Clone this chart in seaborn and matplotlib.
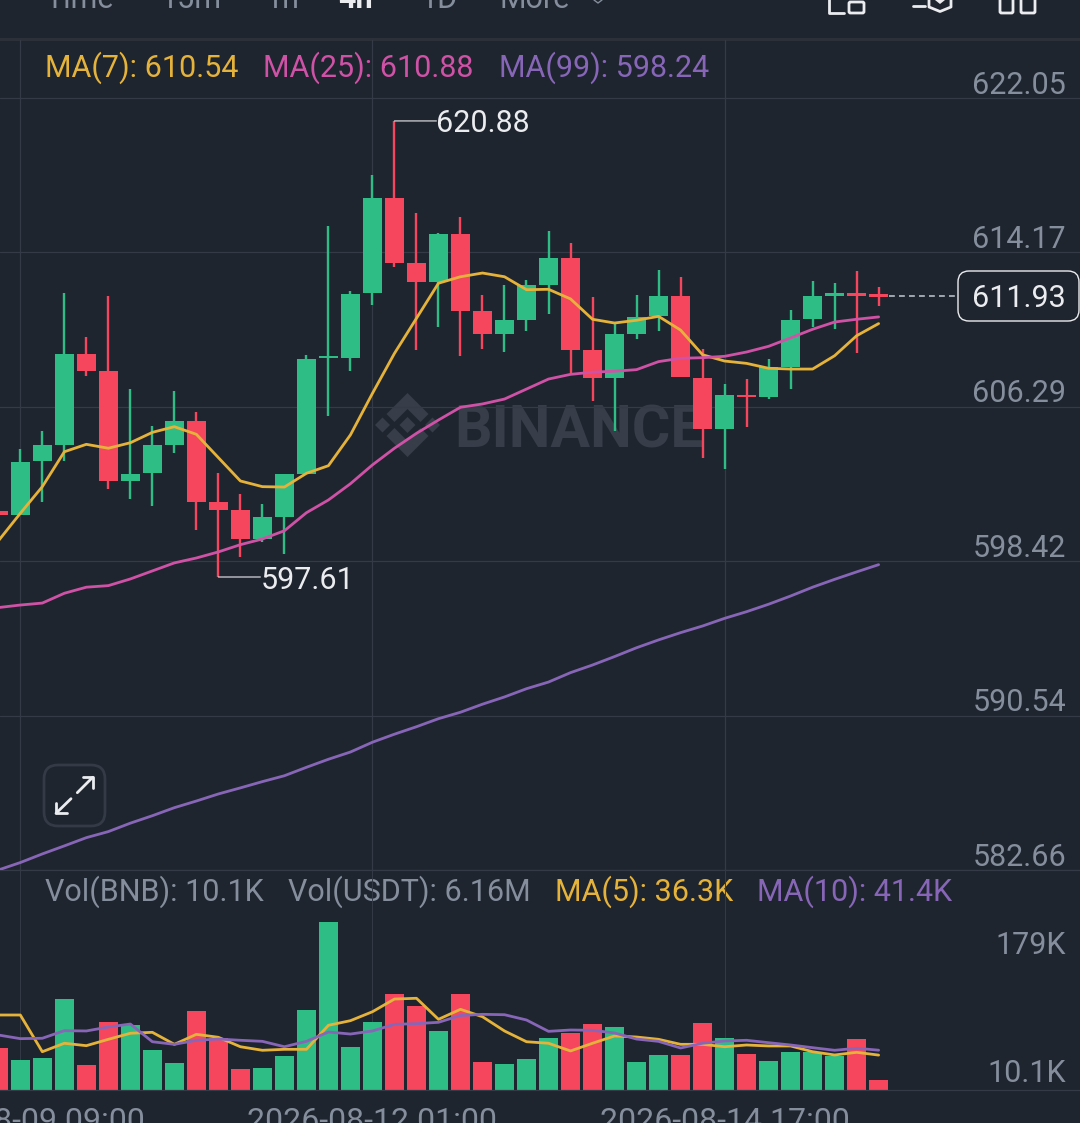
import numpy as np
import seaborn as sns
import matplotlib
matplotlib.use('Agg')
import matplotlib.pyplot as plt
from matplotlib.patches import FancyBboxPatch, Polygon
from matplotlib.transforms import ScaledTranslation

# candles, first one is cut by the left edge
idx = np.arange(-1, 40)
opens = [600.99, 600.77, 603.51, 604.35, 608.97, 608.14, 602.52, 602.90, 604.36, 605.59, 601.45,
         601.05, 599.57, 600.69, 602.87, 608.77, 608.80, 612.09, 616.96, 613.63, 612.68,
         615.10, 611.17, 609.99, 610.72, 612.52, 613.89, 609.19, 607.75, 610.01, 610.91,
         611.95, 607.78, 605.18, 606.91, 606.81, 608.34, 610.77, 611.95, 612.10, 611.99]
highs = [600.99, 604.13, 605.06, 612.10, 609.84, 611.96, 607.20, 605.30, 607.10, 606.01, 602.90,
         601.86, 601.34, 602.87, 608.92, 615.52, 612.20, 618.12, 620.88, 616.20, 615.18,
         615.96, 612.01, 612.51, 612.76, 615.25, 614.65, 611.88, 610.52, 612.01, 613.27,
         612.90, 609.23, 607.46, 607.71, 608.75, 611.22, 612.70, 612.60, 613.24, 612.41]
lows = [600.77, 600.77, 601.45, 603.51, 607.87, 602.09, 601.61, 601.23, 603.92, 600.01, 597.61,
        598.65, 599.41, 598.77, 602.87, 605.84, 608.14, 611.50, 613.44, 609.19, 610.38,
        608.90, 609.26, 609.11, 610.15, 611.03, 608.00, 606.61, 605.06, 609.75, 610.15,
        607.80, 603.67, 603.12, 605.26, 606.68, 607.19, 610.38, 610.25, 609.02, 611.44]
closes = [600.77, 603.48, 604.35, 608.97, 608.14, 602.52, 602.88, 604.35, 605.59, 601.45, 601.05,
          599.57, 600.67, 602.87, 608.75, 608.89, 612.07, 616.96, 613.63, 612.68, 615.10,
          611.18, 609.99, 610.71, 612.52, 613.89, 609.19, 607.75, 609.99, 610.89, 611.95,
          607.80, 605.18, 606.91, 606.80, 608.34, 610.74, 611.93, 612.10, 611.96, 611.93]

ma7 = [599.45, 600.86, 602.22, 604.00, 604.38, 604.18, 604.46, 604.99, 605.28, 604.89, 603.70,
       602.51, 602.22, 602.20, 602.90, 603.29, 604.86, 606.98, 609.02, 610.81, 612.60,
       612.93, 613.12, 612.93, 612.27, 612.29, 611.80, 610.76, 610.57, 610.71, 610.91,
       610.21, 608.95, 608.63, 608.51, 608.26, 608.22, 608.22, 608.90, 609.92, 610.54]
ma25 = [596.05, 596.18, 596.28, 596.78, 597.09, 597.17, 597.51, 597.92, 598.33, 598.58, 598.89,
        599.26, 599.55, 599.97, 600.89, 601.54, 602.37, 603.33, 604.18, 604.94, 605.62,
        606.27, 606.44, 606.69, 607.20, 607.71, 607.95, 608.06, 608.11, 608.19, 608.60,
        608.77, 608.80, 608.87, 609.09, 609.38, 609.81, 610.25, 610.62, 610.76, 610.88]
ma99 = [582.66, 583.04, 583.48, 583.89, 584.31, 584.62, 585.05, 585.43, 585.84, 586.18, 586.54,
        586.85, 587.17, 587.47, 587.90, 588.31, 588.68, 589.18, 589.59, 589.97, 590.38,
        590.71, 591.12, 591.49, 591.91, 592.25, 592.73, 593.12, 593.55, 594.00, 594.40,
        594.77, 595.11, 595.50, 595.84, 596.22, 596.64, 597.09, 597.49, 597.87, 598.24]

# volume in thousands
vol = [44.0, 31.2, 33.3, 95.0, 26.0, 70.7, 67.3, 41.3, 28.4, 81.8, 53.8,
       21.8, 22.6, 35.0, 83.2, 174.4, 44.4, 70.7, 99.8, 87.4, 61.4,
       100.2, 29.1, 27.0, 31.9, 54.1, 59.6, 68.6, 65.2, 29.1, 36.1,
       36.4, 69.7, 54.1, 37.1, 30.5, 39.2, 39.2, 35.7, 52.7, 10.1]
vol_ma5 = [78.0, 78.0, 39.8, 48.6, 46.1, 52.7, 59.0, 60.0, 47.5, 57.9, 54.8,
           45.0, 41.3, 42.3, 42.3, 67.3, 72.1, 81.4, 94.6, 95.4, 73.5,
           83.9, 76.2, 61.4, 50.2, 48.6, 40.6, 48.6, 56.2, 55.1, 52.7,
           47.5, 47.5, 45.0, 46.8, 45.8, 45.8, 39.8, 36.4, 39.2, 36.3]
vol_ma10 = [57.2, 53.4, 53.8, 61.7, 61.4, 65.5, 68.6, 50.2, 47.5, 51.7, 53.0,
            51.7, 50.6, 45.0, 50.6, 60.3, 58.2, 61.4, 68.3, 69.0, 70.4,
            77.5, 78.7, 78.3, 72.8, 61.0, 62.4, 62.1, 59.3, 53.0, 50.6,
            43.7, 48.6, 51.0, 51.7, 49.2, 46.8, 44.0, 41.3, 43.4, 41.4]

price_ticks = [622.05, 614.17, 606.29, 598.42, 590.54, 582.66]
date_ticks = [0, 16, 32]
date_labels = ['2026-08-09 09:00', '2026-08-12 01:00', '2026-08-14 17:00']
last_price = 611.93

BG = '#1F252F'
GRID = '#343A46'
DIM = '#848E9C'
WHITE = '#EAECEF'
GREEN = '#2EBD85'
RED = '#F6465D'
YELLOW = '#E6B33A'
PINK = '#CF52A6'
PURPLE = '#8766B8'
MARK = '#383E49'

sns.set_theme(style='dark', rc={'figure.facecolor': BG, 'axes.facecolor': 'none', 'text.color': DIM,
                                'xtick.color': DIM, 'ytick.color': DIM})
plt.rcParams['font.family'] = ['Roboto', 'DejaVu Sans']
FS = 22
LW = 2.0

opens, highs, lows, closes = map(np.array, (opens, highs, lows, closes))
up = closes >= opens
colors = np.where(up, GREEN, RED)

fig = plt.figure(figsize=(10.8, 11.23), dpi=100)

# background layer in pixels, for the watermark and the app chrome
bg = fig.add_axes([0, 0, 1, 1])
bg.set_xlim(0, 1080)
bg.set_ylim(1123, 0)
bg.axis('off')

bg.plot([0, 1080], [38.5, 38.5], color='#2B3039', lw=2.2)

# watermark
cx, cy = 407.5, 425
chevron = np.array([(0, -32), (21, -11), (13, -3), (0, -16), (-13, -3), (-21, -11)], float)
bg.add_patch(Polygon(chevron + (cx, cy), color=MARK, lw=0))
bg.add_patch(Polygon(chevron * (1, -1) + (cx, cy), color=MARK, lw=0))
for dx, r in [(0, 8), (-25, 7.5), (25, 7.5)]:
    bg.add_patch(Polygon([(cx + dx, cy - r), (cx + dx + r, cy), (cx + dx, cy + r), (cx + dx - r, cy)], color=MARK, lw=0))
bg.text(454, 431, 'BINANCE', color=MARK, fontsize=42.5, fontweight='bold', va='center', ha='left')

# nav row, cut by the top of the picture
for x, s, c in [(45, 'Time', DIM), (160, '15m', DIM), (265, '1h', DIM), (338, '4h', WHITE), (420, '1D', DIM), (500, 'More', DIM)]:
    bg.text(x, 8, s, color=c, fontsize=FS, va='baseline', ha='left', fontweight='bold' if s == '4h' else 'normal')
bg.plot([594, 598, 602], [0, 3, 0], color=DIM, lw=1)

# top right icons
def rbox(x0, y0, x1, y1, r, ec, lw, ax=bg):
    ax.add_patch(FancyBboxPatch((x0, y0), x1 - x0, y1 - y0, boxstyle='round,pad=0,rounding_size=%s' % r,
                                fc='none', ec=ec, lw=lw))

bg.plot([829, 829, 844], [-2, 13, 13], color=WHITE, lw=2)
rbox(849, 2, 864, 13, 1.5, WHITE, 2)
bg.plot([913, 925], [5.5, 5.5], color=WHITE, lw=2)
bg.plot([929, 929, 940, 951, 951], [-2, 7, 11.5, 7, -2], color=WHITE, lw=2)
bg.add_patch(Polygon([(935, 0), (945, 0), (940, 4)], color=WHITE, lw=0))
rbox(1000, -4, 1013, 13, 1.5, WHITE, 2)
rbox(1021, -4, 1035, 13, 1.5, WHITE, 2)

# MA headers
for x, s, c in [(45, 'MA(7): 610.54', YELLOW), (263, 'MA(25): 610.88', PINK), (499, 'MA(99): 598.24', PURPLE)]:
    bg.text(x, 68, s, color=c, fontsize=FS, va='center', ha='left')
for x, s, c in [(45, 'Vol(BNB): 10.1K', DIM), (288, 'Vol(USDT): 6.16M', DIM), (555, 'MA(5): 36.3K', YELLOW), (757, 'MA(10): 41.4K', PURPLE)]:
    bg.text(x, 892, s, color=c, fontsize=FS, va='center', ha='left')

bg.text(1066, 945, '179K', color=DIM, fontsize=FS, va='center', ha='right')
bg.text(1066, 1074, '10.1K', color=DIM, fontsize=FS, va='center', ha='right')

# expand button
rbox(44, 765, 105, 826, 14, GRID, 2)
bg.plot([77.3, 92.7], [792.7, 777.3], color=WHITE, lw=2)
bg.plot([82.7, 92.7, 92.7], [777.3, 777.3, 788], color=WHITE, lw=2)
bg.plot([71, 56], [798.7, 813.3], color=WHITE, lw=2)
bg.plot([56, 56, 66.7], [803, 813.3, 813.3], color=WHITE, lw=2)

# last price badge
rbox(958, 271, 1079, 321, 11, WHITE, 1)
bg.text(1018.5, 298.5, '%.2f' % last_price, color=WHITE, fontsize=FS, va='center', ha='center')

# price panel
ax = fig.add_axes([0, (1123 - 870) / 1123, 1, 830 / 1123])
ax.set_axisbelow(True)
ax.vlines(idx, lows, highs, colors=colors, lw=1.7, zorder=2)
body = np.maximum(np.abs(closes - opens), 0.13)
ax.bar(idx, body, bottom=(opens + closes) / 2 - body / 2, width=0.886, color=colors, lw=0, zorder=2.5)

sns.lineplot(x=idx, y=ma7, ax=ax, color=YELLOW, linewidth=LW, estimator=None, legend=False, zorder=3)
sns.lineplot(x=idx, y=ma25, ax=ax, color=PINK, linewidth=LW, estimator=None, legend=False, zorder=3)
sns.lineplot(x=idx, y=ma99, ax=ax, color=PURPLE, linewidth=LW, estimator=None, legend=False, zorder=3)

ax.plot([39, 39 + 3.63], [last_price, last_price], color='#B7BDC6', lw=1.2, ls=(0, (3.5, 2.5)), zorder=2)

# high and low labels, leader drawn apart from the text so it stays level
for i, p in [(17, max(highs)), (9, min(lows))]:
    ax.annotate('', xy=(i, p), xytext=(42, 0), textcoords='offset pixels',
                arrowprops=dict(arrowstyle='-', color=WHITE, lw=0.8, shrinkA=0, shrinkB=0))
    ax.annotate('%.2f' % p, xy=(i, p), xytext=(42, 0), textcoords='offset pixels', color=WHITE, fontsize=FS,
                va='center_baseline', ha='left')

xlim = (-0.923, 48.15)
ax.set_xlim(xlim)
ax.set_ylim(582.66, 625.01)
ax.set_xticks(date_ticks)
ax.set_xticklabels([])
ax.yaxis.tick_right()
ax.set_yticks(price_ticks)
ax.set_yticklabels(['%.2f' % p for p in price_ticks], ha='right', fontsize=FS, color=DIM)
ax.tick_params(axis='y', length=0, pad=-10)
ax.tick_params(axis='x', length=0)
for lab in ax.get_yticklabels():
    lab.set_transform(lab.get_transform() + ScaledTranslation(0, 0.16, fig.dpi_scale_trans))
ax.grid(True, color=GRID, lw=0.9)
sns.despine(ax=ax, left=True, right=True, top=True, bottom=False)
ax.spines['bottom'].set_color(GRID)
ax.spines['bottom'].set_linewidth(0.9)

# volume panel
ax2 = fig.add_axes([0, (1123 - 1090) / 1123, 1, 220 / 1123])
ax2.set_axisbelow(True)
sns.barplot(x=idx, y=vol, hue=colors, palette={GREEN: GREEN, RED: RED}, native_scale=True, dodge=False, width=0.886,
            saturation=1, errorbar=None, legend=False, ax=ax2, linewidth=0)
sns.lineplot(x=idx, y=vol_ma5, ax=ax2, color=YELLOW, linewidth=LW, estimator=None, legend=False, zorder=3)
sns.lineplot(x=idx, y=vol_ma10, ax=ax2, color=PURPLE, linewidth=LW, estimator=None, legend=False, zorder=3)
ax2.set_xlim(xlim)
ax2.set_ylim(0, 228.8)
ax2.set_xticks(date_ticks)
ax2.set_xticklabels(date_labels, fontsize=23, color=DIM)
ax2.set_yticks([])
ax2.set_xlabel('')
ax2.set_ylabel('')
ax2.tick_params(axis='x', length=0, pad=12)
ax2.grid(True, axis='x', color=GRID, lw=0.7)
sns.despine(ax=ax2, left=True, right=True, top=True, bottom=False)
ax2.spines['bottom'].set_color(GRID)
ax2.spines['bottom'].set_linewidth(0.9)

fig.savefig('out.png', dpi=100, facecolor=BG)
